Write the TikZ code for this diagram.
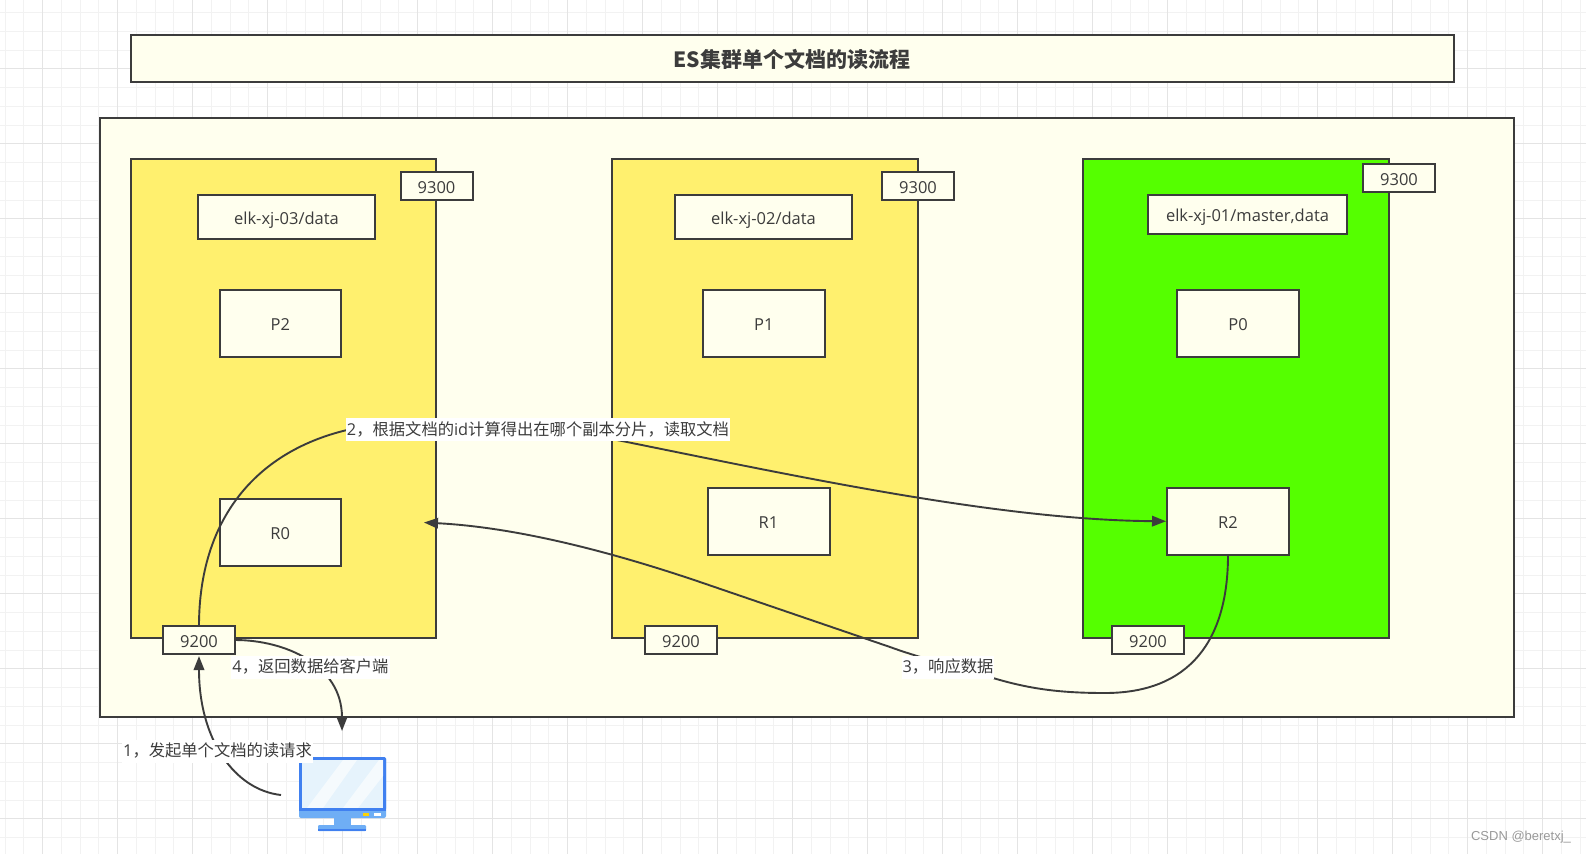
\documentclass[tikz,border=0pt]{standalone}
\usepackage{fontspec}
\setmainfont{Noto Sans CJK SC}
\newfontfamily\markfont{Liberation Sans}
\newfontfamily\latinfont{Open Sans}
\newcommand{\lat}[1]{{\latinfont #1}}
\newcommand{\fcomma}{\char"FF0C\relax}
\usetikzlibrary{arrows.meta}
\definecolor{ink}{HTML}{3C3C3C}
\definecolor{cream}{HTML}{FFFFEE}
\definecolor{butter}{HTML}{FFF06E}
\definecolor{lime}{HTML}{55FF00}
\definecolor{gridmin}{HTML}{F2F2F2}
\definecolor{gridmaj}{HTML}{E4E4E4}
\definecolor{scrn}{HTML}{E6F3FC}
\definecolor{frameb}{HTML}{4080F0}
\definecolor{chin}{HTML}{6FAEF5}
\tikzset{
  panel/.style={draw=ink,line width=2pt,inner sep=0pt,outer sep=0pt,text=ink,text height=16pt,text depth=2pt,font=\fontsize{16.5}{18}\selectfont\latinfont},
  creambox/.style={panel,fill=cream},
  butterbox/.style={panel,fill=butter},
  limebox/.style={panel,fill=lime},
  conn/.style={draw=ink,line width=1.9pt},
  tipped/.style={conn,-{Triangle[length=14pt,width=10.5pt]}},
  edgelabel/.style={fill=white,text=ink,inner xsep=1pt,inner ysep=1.5pt,text height=15.5pt,text depth=4.5pt,font=\fontsize{16.3}{18}\selectfont}
}
\begin{document}
\begin{tikzpicture}[x=1pt,y=-1pt]
\useasboundingbox (0,0) rectangle (1586,854);
\fill[white] (0,0) rectangle (1586,854);
% grid
\foreach \k in {0,...,84} {\draw[gridmin,line width=1pt] ({5+18.75*\k},0) -- ({5+18.75*\k},854);}
\foreach \k in {0,...,45} {\draw[gridmin,line width=1pt] (0,{12.5+18.75*\k}) -- (1586,{12.5+18.75*\k});}
\foreach \k in {0,...,20} {\draw[gridmaj,line width=1pt] ({42.5+75*\k},0) -- ({42.5+75*\k},854);}
\foreach \k in {0,...,10} {\draw[gridmaj,line width=1pt] (0,{68.5+75*\k}) -- (1586,{68.5+75*\k});}
% title and frame
\node[creambox,minimum width=1323pt,minimum height=47pt,text height=20pt,text depth=3pt,font=\fontsize{21}{24}\selectfont\rmfamily\bfseries] (title) at (792,58.5) {ES集群单个文档的读流程};
\node[creambox,minimum width=1414pt,minimum height=599pt] (outer) at (806.5,417.5) {};
% data nodes
\node[butterbox,minimum width=305pt,minimum height=479pt] (n3) at (283,398.5) {};
\node[butterbox,minimum width=305.5pt,minimum height=479pt] (n2) at (764.75,398.5) {};
\node[limebox,minimum width=306pt,minimum height=479pt] (n1) at (1236,398.5) {};
\node[creambox,minimum width=72pt,minimum height=28pt] (p3a) at (436.5,186) {9300};
\node[creambox,minimum width=72pt,minimum height=28pt] (p3b) at (918,186) {9300};
\node[creambox,minimum width=72pt,minimum height=28pt] (p3c) at (1399,178) {9300};
\node[creambox,minimum width=177pt,minimum height=44pt] (na) at (286.5,217) {elk-xj-03/data};
\node[creambox,minimum width=177pt,minimum height=44pt] (nb) at (763.5,217) {elk-xj-02/data};
\node[creambox,minimum width=199pt,minimum height=39pt] (nc) at (1247.5,214.5) {elk-xj-01/master,data};
\node[creambox,minimum width=121.5pt,minimum height=67pt] (P2) at (280.25,323.5) {P2};
\node[creambox,minimum width=121.5pt,minimum height=67pt] (P1) at (763.75,323.5) {P1};
\node[creambox,minimum width=122pt,minimum height=67pt] (P0) at (1238,323.5) {P0};
\node[creambox,minimum width=121.5pt,minimum height=67pt] (R0) at (280.25,532.5) {R0};
\node[creambox,minimum width=122pt,minimum height=67.5pt] (R1) at (768.5,521.25) {R1};
\node[creambox,minimum width=122pt,minimum height=67.5pt] (R2) at (1228,521.25) {R2};
\node[creambox,minimum width=72pt,minimum height=28pt] (h1) at (199,640) {9200};
\node[creambox,minimum width=72pt,minimum height=28pt] (h2) at (681,640) {9200};
\node[creambox,minimum width=72pt,minimum height=28pt] (h3) at (1148,640) {9200};
% monitor
\coordinate (mon) at (281,795);
\coordinate (tip3) at (424,522.5);
\coordinate (tip4) at (342,731);
\fill[chin] (334,818) rectangle (351,826);
\fill[chin,rounded corners=1pt] (318,825) rectangle (366,831);
\fill[frameb] (318,828.5) rectangle (366,831);
\fill[chin,rounded corners=2pt] (299,757) rectangle (386,818);
\fill[frameb,rounded corners=1.5pt] (299,757) rectangle (386,810);
\fill[chin] (299,810) rectangle (386,814);
\fill[scrn] (301.5,760) rectangle (383,808);
\fill[white,opacity=.6] (307,808) -- (343,760) -- (357,760) -- (323,808) -- cycle;
\fill[white,opacity=.6] (343,808) -- (379,760) -- (383,760) -- (383,776) -- (358,808) -- cycle;
\fill[frameb] (299,808) rectangle (386,810.5);
\fill[chin] (299,810.5) rectangle (386,812);
\fill[yellow!70!orange] (363,813) rectangle (369,815.5);
\fill[white] (374,813) rectangle (381,815.5);
% connectors
\draw[tipped] (mon) .. controls (235,790) and (199,740) .. ([yshift=-2pt]h1.south);
\draw[tipped] (h1.north) .. controls (199,520) and (255,452) .. (347,430)
  .. controls (410,415) and (540,425) .. (622,441)
  .. controls (800,477) and (1000,520) .. ([xshift=-1pt]R2.west);
\draw[tipped] (R2.south) .. controls (1228,640) and (1190,693) .. (1105,693)
  .. controls (1060,693) and (1030,689) .. (993,678)
  .. controls (960,668) and (920,658) .. (890,647)
  -- (700,582)
  .. controls (600,548) and (510,527) .. (tip3);
\draw[tipped] (h1.east) .. controls (285,640) and (342,665) .. (tip4);
% labels
\node[edgelabel] (l1) at (217.5,751) {\lat{1}\fcomma 发起单个文档的读请求};
\node[edgelabel] (l2) at (538,429.5) {\lat{2}\fcomma 根据文档的\lat{id}计算得出在哪个副本分片\fcomma 读取文档};
\node[edgelabel] (l3) at (948,667) {\lat{3}\fcomma 响应数据};
\node[edgelabel] (l4) at (310.5,667) {\lat{4}\fcomma 返回数据给客户端};
\node[text=gray!80,font=\fontsize{13}{15}\selectfont\markfont] (wm) at (1521,837.5) {CSDN @beretxj\_};
\end{tikzpicture}
\end{document}
